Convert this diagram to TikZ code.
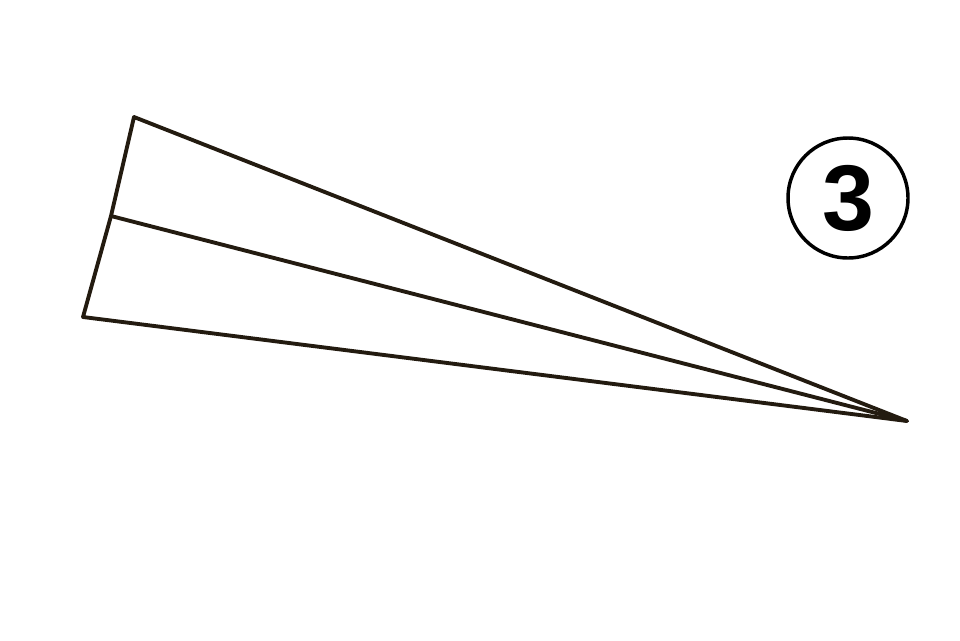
\documentclass[tikz,border=0pt]{standalone}
\usepackage{fontspec}
\setmainfont{Liberation Sans}
\begin{document}
\begin{tikzpicture}[x=0.75pt,y=-0.75pt,
  edge/.style={line width=2.9pt,draw={rgb,255:red,35;green,27;blue,16},line join=round,line cap=round},
  badge/.style={circle,draw=black,line width=2.6pt,minimum size=120*0.75pt,inner sep=0pt,font=\fontsize{70}{70}\selectfont\bfseries}]
\useasboundingbox (0,0) rectangle (960,640);
\coordinate (A) at (134,117);
\coordinate (M) at (111,216);
\coordinate (B) at (83,317);
\coordinate (P) at (907,421);
\draw[edge] (P) -- (A) -- (M) -- (B) -- cycle;
\draw[edge] (M) -- (P);
\node[badge] (num) at (848,198) {3};
\end{tikzpicture}
\end{document}
